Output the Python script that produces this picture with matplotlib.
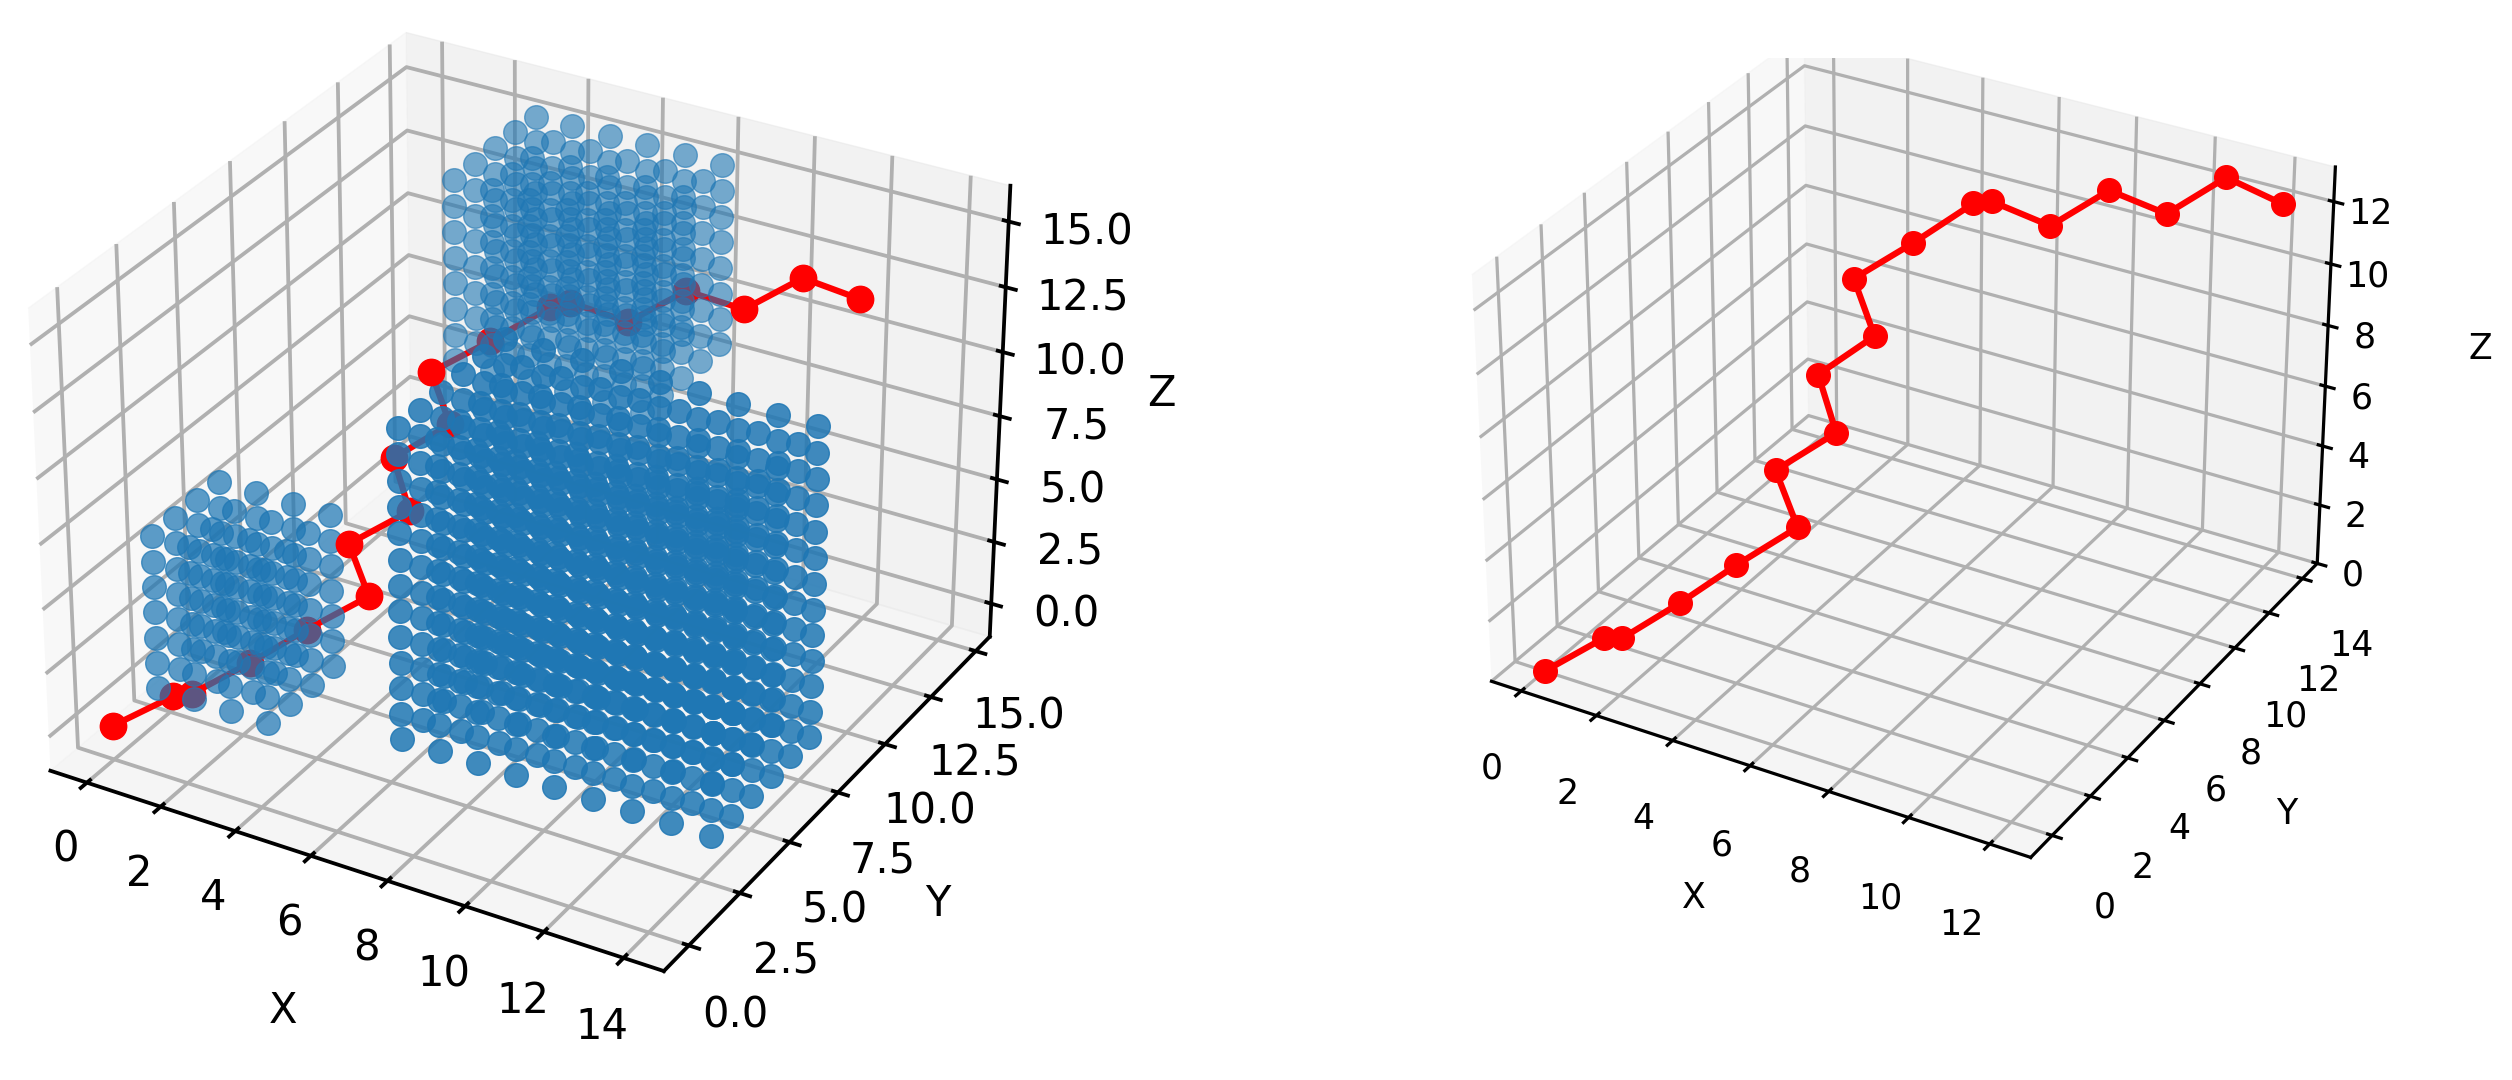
import matplotlib
matplotlib.use("Agg")
import matplotlib.pyplot as plt
from matplotlib.patches import Rectangle
import numpy as np

# caminho (igual nos dois graficos)
path_x = [0, 1.18, 1.21, 2.36, 3.44, 4.66, 3.69, 4.88, 4.02, 5.09, 4.16, 5.3, 6.46, 6.55, 7.68, 8.79, 9.9, 11.02, 12.13]
path_y = [0, 0.78, 1.56, 2.33, 3.11, 3.89, 4.67, 5.44, 6.22, 7, 7.78, 8.56, 9.33, 10.11, 10.89, 11.67, 12.44, 13.22, 14]
path_z = [0, 1.12, 0.65, 1.84, 3.06, 4.34, 5.41, 6.65, 7.81, 9.02, 10.14, 11.27, 12.53, 12.24, 11.45, 12.56, 11.8, 12.94, 12.07]
# pontos do caminho que ficam atras dos obstaculos no grafico da esquerda
path_behind = [0, 1, 1, 1, 1, 0, 0, 1, 1, 1, 0, 1, 1, 1, 1, 1, 0, 0, 0]

# obstaculos: xmin, xmax, ymin, ymax, zmin, zmax
obstacles = [
    (0, 3, 2, 5, 0, 6),
    (6, 14, 3, 8, 0, 12),
    (3, 8, 11, 15, 8, 15),
]
obstacle_alpha = [0.72, 0.85, 0.6]

x_ticks_left = [0, 2, 4, 6, 8, 10, 12, 14]
y_ticks_left = [0, 2.5, 5, 7.5, 10, 12.5, 15]
z_ticks_left = [0, 2.5, 5, 7.5, 10, 12.5, 15]
x_ticks_right = [0, 2, 4, 6, 8, 10, 12]
y_ticks_right = [0, 2, 4, 6, 8, 10, 12, 14]
z_ticks_right = [0, 2, 4, 6, 8, 10, 12]

W, H = 2512, 1080


def setup_axes(rect, xlim, ylim, zlim, xt, yt, zt, fmt, font, lw, pads, labelpads):
    plt.rcParams['grid.linewidth'] = 0.8 * lw
    plt.rcParams['axes.linewidth'] = 0.8 * lw
    plt.rcParams['xtick.major.width'] = 0.8 * lw
    plt.rcParams['ytick.major.width'] = 0.8 * lw
    plt.rcParams['font.size'] = font
    left, top, w, h = rect
    ax = fig.add_axes([left / W, 1 - (top + h) / H, w / W, h / H], projection='3d', computed_zorder=False)
    ax.set_xlim(*xlim)
    ax.set_ylim(*ylim)
    ax.set_zlim(*zlim)
    ax.set_xticks(xt)
    ax.set_yticks(yt)
    ax.set_zticks(zt)
    ax.set_yticklabels([fmt % v for v in yt])
    ax.set_zticklabels([fmt % v for v in zt])
    ax.set_xlabel('X', labelpad=labelpads[0])
    ax.set_ylabel('Y', labelpad=labelpads[1])
    ax.set_zlabel('Z', labelpad=labelpads[2])
    ax.tick_params(labelsize=font)
    ax.tick_params(axis='x', pad=pads[0])
    ax.tick_params(axis='y', pad=pads[1])
    ax.tick_params(axis='z', pad=pads[2])
    return ax


fig = plt.figure(figsize=(W / 100, H / 100), dpi=100)

# grafico da esquerda, com obstaculos
ax1 = setup_axes((-32, -52, 1092, 1092), (-1, 15), (-1.2, 15.8), (-1.35, 16.35),
                 x_ticks_left, y_ticks_left, z_ticks_left, '%.1f', 30, 3.4, (16, 22, 26), (52, 48, 51))
for (xa, xb, ya, yb, za, zb), alpha in zip(obstacles, obstacle_alpha):
    gx, gy, gz = np.meshgrid(np.arange(xa, xb + 1), np.arange(ya, yb + 1), np.arange(za, zb + 1))
    ax1.scatter(gx.ravel(), gy.ravel(), gz.ravel(), s=290, color='tab:blue', alpha=alpha,
                depthshade=False, zorder=2)
for i in range(len(path_x)):
    z_ord = 1 if path_behind[i] else 3
    ax1.plot([path_x[i]], [path_y[i]], [path_z[i]], 'o', color='r', ms=19, zorder=z_ord)
    if i > 0:
        z_seg = 1 if (path_behind[i] or path_behind[i - 1]) else 3
        ax1.plot(path_x[i - 1:i + 1], path_y[i - 1:i + 1], path_z[i - 1:i + 1], color='r', lw=4.5, zorder=z_seg)

# grafico da direita, so o caminho
ax2 = setup_axes((1419, -42, 960, 960), (-0.8, 13), (-1.1, 14.9), (0, 13.1),
                 x_ticks_right, y_ticks_right, z_ticks_right, '%d', 25, 2.9, (24, 26, 8), (46, 50, 48))
ax2.plot(path_x, path_y, path_z, '-o', color='r', lw=4.5, ms=17)

# a imagem original corta o topo do grafico da direita
fig.add_artist(Rectangle((1650 / W, 1 - 58 / H), 400 / W, 58 / H, transform=fig.transFigure,
                         facecolor='white', edgecolor='none', zorder=10))

fig.savefig('out.png', dpi=100)
